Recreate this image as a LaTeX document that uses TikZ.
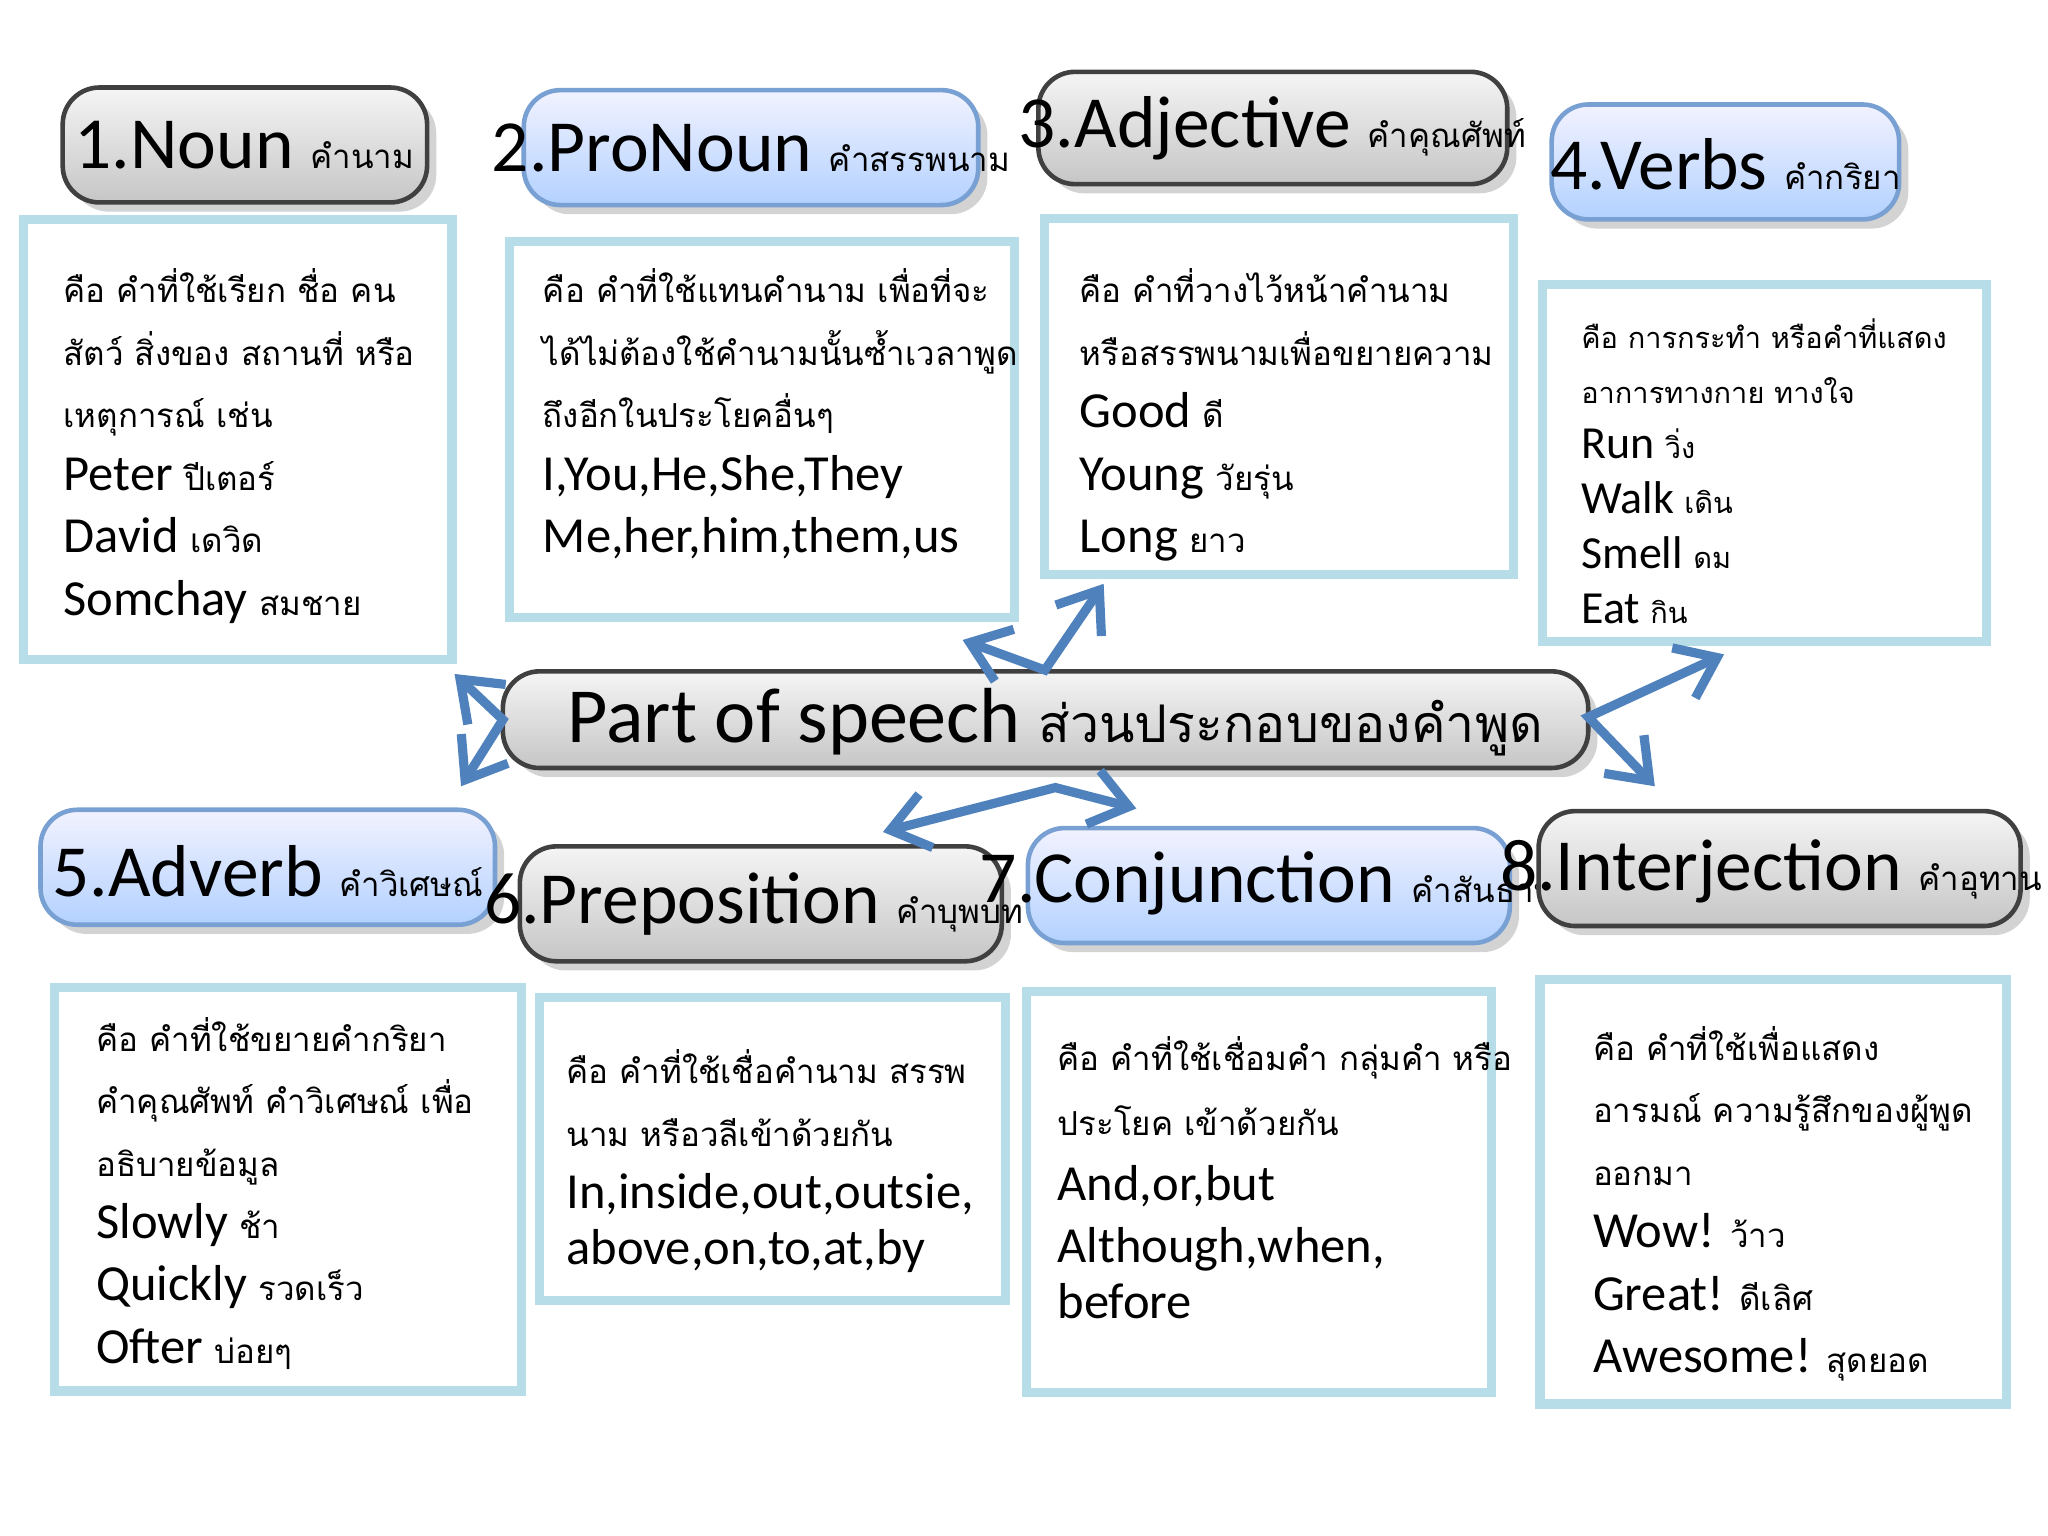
\documentclass[tikz,border=0pt]{standalone}
\usepackage{fontspec}
\setmainfont{Carlito}
\newfontfamily\thf[Script=Thai]{Loma}
\usetikzlibrary{shadows,arrows.meta}
\tikzset{
 hdr/.style={draw=black!75,line width=1pt,rounded corners=8pt,drop shadow={opacity=0.35,shadow xshift=2pt,shadow yshift=-2pt}},
 hlab/.style={font=\fontsize{16}{18}\selectfont},
 gry/.style={hdr,top color=gray!8,bottom color=gray!45},
 blu/.style={hdr,draw={rgb,255:red,120;green,160;blue,210},top color=blue!5,bottom color=blue!60!cyan!30},
 cbox/.style={draw={rgb,255:red,183;green,221;blue,232},line width=2pt},
 ctext/.style={anchor=north west,inner sep=0,align=left,font=\fontsize{11}{13.6}\selectfont},
 arr/.style={{Straight Barb[length=8pt,width=12pt]}-{Straight Barb[length=8pt,width=12pt]},draw={rgb,255:red,79;green,129;blue,189},line width=2pt}
}
\newcommand{\tht}[1]{{\thf\fontsize{7.2}{9}\selectfont #1}}
\newcommand{\ths}[1]{{\thf\fontsize{6.3}{8}\selectfont #1}}
\begin{document}
\begin{tikzpicture}[x=0.01cm,y=-0.01cm]
\useasboundingbox (0,0) rectangle (1568,1176);
% header boxes
\draw[gry] (48,67) rectangle (327,155); \node[hlab] (h1) at (187,111) {1.Noun \tht{คำนาม}};
\draw[blu] (401,69) rectangle (749,157); \node[hlab] (h2) at (575,113) {2.ProNoun \tht{คำสรรพนาม}};
\draw[gry] (795,55) rectangle (1154,141); \node[hlab] (h3) at (974,98) {3.Adjective \tht{คำคุณศัพท์}};
\draw[blu] (1188,80) rectangle (1454,168); \node[hlab] (h4) at (1321,126) {4.Verbs \tht{คำกริยา}};
\draw[blu] (31,620) rectangle (379,708); \node[hlab] (h5) at (205,667) {5.Adverb \tht{คำวิเศษณ์}};
\draw[gry] (398,648) rectangle (767,736); \node[hlab] (h6) at (577,692) {6.Preposition \tht{คำบุพบท}};
\draw[blu] (787,634) rectangle (1156,722); \node[hlab] (h7) at (971,676) {7.Conjunction \tht{คำสันธาน}};
\draw[gry] (1178,621) rectangle (1547,709); \node[hlab] (h8) at (1356,667) {8.Interjection \tht{คำอุทาน}};
\draw[gry] (385,514) rectangle (1216,588);
\node[font=\fontsize{17}{20}\selectfont] (c) at (808,553) {Part of speech {\thf\fontsize{11.3}{14}\selectfont ส่วนประกอบของคำพูด}};
% content boxes
\draw[cbox] (18,168) rectangle (346,505);
\node[ctext] (t1) at (48,205) {\tht{คือ คำที่ใช้เรียก ชื่อ คน}\\\tht{สัตว์ สิ่งของ สถานที่ หรือ}\\\tht{เหตุการณ์ เช่น}\\Peter \tht{ปีเตอร์}\\David \tht{เดวิด}\\Somchay \tht{สมชาย}};
\draw[cbox] (390,185) rectangle (777,473);
\node[ctext] (t2) at (415,205) {\tht{คือ คำที่ใช้แทนคำนาม เพื่อที่จะ}\\\tht{ได้ไม่ต้องใช้คำนามนั้นซ้ำเวลาพูด}\\\tht{ถึงอีกในประโยคอื่นๆ}\\I,You,He,She,They\\Me,her,him,them,us};
\draw[cbox] (800,167) rectangle (1159,440);
\node[ctext] (t3) at (826,205) {\tht{คือ คำที่วางไว้หน้าคำนาม}\\\tht{หรือสรรพนามเพื่อขยายความ}\\Good \tht{ดี}\\Young \tht{วัยรุ่น}\\Long \tht{ยาว}};
\draw[cbox] (1181,218) rectangle (1521,491);
\node[ctext,font=\fontsize{10}{12}\selectfont] (t4) at (1210,243) {\ths{คือ การกระทำ หรือคำที่แสดง}\\\ths{อาการทางกาย ทางใจ}\\Run \ths{วิ่ง}\\Walk \ths{เดิน}\\Smell \ths{ดม}\\Eat \ths{กิน}};
\draw[cbox] (42,756) rectangle (399,1065);
\node[ctext] (t5) at (73,778) {\tht{คือ คำที่ใช้ขยายคำกริยา}\\\tht{คำคุณศัพท์ คำวิเศษณ์ เพื่อ}\\\tht{อธิบายข้อมูล}\\Slowly \tht{ช้า}\\Quickly \tht{รวดเร็ว}\\Ofter \tht{บ่อยๆ}};
\draw[cbox] (413,764) rectangle (770,996);
\node[ctext] (t6) at (433,803) {\tht{คือ คำที่ใช้เชื่อคำนาม สรรพ}\\\tht{นาม หรือวลีเข้าด้วยกัน}\\In,inside,out,outsie,\\[-1.5pt]above,on,to,at,by};
\draw[cbox] (786,759) rectangle (1142,1066);
\node[ctext] (t7) at (809,793) {\tht{คือ คำที่ใช้เชื่อมคำ กลุ่มคำ หรือ}\\[0.5pt]\tht{ประโยค เข้าด้วยกัน}\\[0.5pt]And,or,but\\Although,when,\\[-1.5pt]before};
\draw[cbox] (1179,750) rectangle (1536,1075);
\node[ctext] (t8) at (1219,785) {\tht{คือ คำที่ใช้เพื่อแสดง}\\\tht{อารมณ์ ความรู้สึกของผู้พูด}\\\tht{ออกมา}\\Wow! \tht{ว้าว}\\Great! \tht{ดีเลิศ}\\Awesome! \tht{สุดยอด}};
% arrows
\coordinate (l) at (385,551); \coordinate (lu) at (348,516); \coordinate (ld) at (353,602);
\coordinate (u) at (800,513); \coordinate (ul) at (737,490); \coordinate (ur) at (845,447);
\coordinate (r) at (1216,549); \coordinate (ru) at (1320,501); \coordinate (rd) at (1267,602);
\coordinate (d) at (808,603); \coordinate (dl) at (676,637); \coordinate (dr) at (870,619);
\draw[arr] (lu) -- (l) -- (ld);
\draw[arr] (ul) -- (u) -- (ur);
\draw[arr] (ru) -- (r) -- (rd);
\draw[arr] (dl) -- (d) -- (dr);
\end{tikzpicture}
\end{document}
